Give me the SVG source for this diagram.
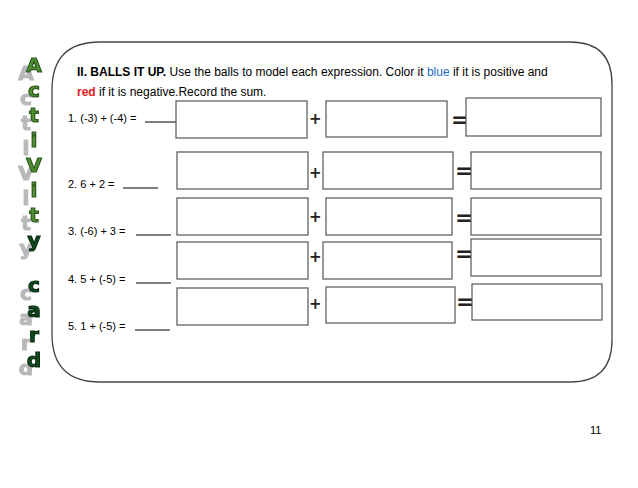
<svg xmlns="http://www.w3.org/2000/svg" width="638" height="488" viewBox="0 0 638 488">
<defs>
<filter id="sh" x="-50%" y="-50%" width="200%" height="200%">
<feFlood flood-color="#b8b8b8" result="c"/>
<feComposite in="c" in2="SourceAlpha" operator="in" result="s"/>
<feOffset in="s" dx="-8" dy="8" result="o"/>
<feMerge><feMergeNode in="o"/><feMergeNode in="SourceGraphic"/></feMerge>
</filter>
</defs>
<style>
.t{font-family:"Liberation Sans",sans-serif;font-size:11px;fill:#000}
.h{font-family:"Liberation Sans",sans-serif;font-size:12px;fill:#000}
.b{fill:#fff;stroke:#555;stroke-width:1.2}
.op{font-family:"DejaVu Sans",sans-serif;font-weight:bold;font-size:15px;fill:#222}
.eq{font-family:"DejaVu Sans",sans-serif;font-weight:bold;font-size:22px;fill:#222}
.L{font-family:"DejaVu Sans",sans-serif;font-weight:bold;font-size:20px;text-anchor:middle}
.g{fill:#4f8f33;stroke:#2d5a1e;stroke-width:1.2}
.d{fill:#0f4a1e;stroke:#0a2e12;stroke-width:1.2}
</style>
<rect width="638" height="488" fill="#fff"/>
<path d="M100,42 H570 Q612,42 612,84 V340 Q612,382 570,382 H100 Q52,382 52,334 V90 Q52,42 100,42 Z" fill="none" stroke="#444" stroke-width="1.3"/>
<g id="title">
<text class="h" x="77" y="76"><tspan font-weight="bold">II. BALLS IT UP.</tspan> Use the balls to model each expression.  Color it <tspan fill="#1a6fc0">blue</tspan> if it is positive and</text>
<text class="h" x="77" y="96"><tspan fill="#e02020" font-weight="bold">red</tspan> if it is negative.Record the sum.</text>
</g>
<g id="side" filter="url(#sh)">
<g class="g"><text class="L" x="34" y="72">A</text><text class="L" x="34" y="97">c</text><text class="L" x="34" y="122">t</text><text class="L" x="34" y="147">i</text><text class="L" x="34" y="172">V</text><text class="L" x="34" y="197">i</text><text class="L" x="34" y="222">t</text></g>
<g class="d"><text class="L" x="34" y="247">y</text><text class="L" x="34" y="292">c</text><text class="L" x="34" y="317">a</text><text class="L" x="34" y="342">r</text><text class="L" x="34" y="367">d</text></g>
</g>
<g id="q1"><text class="t" x="68" y="122">1.  (-3) + (-4) =</text><line x1="145" y1="122" x2="176" y2="122" stroke="#000"/>
<rect class="b" x="176" y="101" width="131" height="37"/><text class="op" x="309" y="124">+</text><rect class="b" x="326" y="101" width="121" height="36"/><text class="eq" x="451" y="127">=</text><rect class="b" x="466" y="98" width="135" height="38"/></g>
<g id="q2"><text class="t" x="68" y="188">2.  6 + 2 = </text><line x1="123" y1="188" x2="158" y2="188" stroke="#000"/>
<rect class="b" x="177" y="152" width="131" height="37"/><text class="op" x="309" y="178">+</text><rect class="b" x="323" y="152" width="130" height="37"/><text class="eq" x="455" y="178">=</text><rect class="b" x="471" y="152" width="130" height="37"/></g>
<g id="q3"><text class="t" x="68" y="235">3.  (-6) + 3 = </text><line x1="136" y1="235" x2="171" y2="235" stroke="#000"/>
<rect class="b" x="177" y="198" width="131" height="37"/><text class="op" x="309" y="222">+</text><rect class="b" x="326" y="198" width="126" height="37"/><text class="eq" x="455" y="225">=</text><rect class="b" x="471" y="198" width="130" height="37"/></g>
<g id="q4"><text class="t" x="68" y="283">4.  5 + (-5) = </text><line x1="136" y1="283" x2="171" y2="283" stroke="#000"/>
<rect class="b" x="177" y="242" width="131" height="37"/><text class="op" x="309" y="262">+</text><rect class="b" x="323" y="242" width="129" height="37"/><text class="eq" x="455" y="261">=</text><rect class="b" x="471" y="239" width="130" height="37"/></g>
<g id="q5"><text class="t" x="68" y="330">5.  1 + (-5) = </text><line x1="135" y1="330" x2="170" y2="330" stroke="#000"/>
<rect class="b" x="177" y="288" width="131" height="37"/><text class="op" x="309" y="309">+</text><rect class="b" x="326" y="287" width="129" height="36"/><text class="eq" x="456" y="309">=</text><rect class="b" x="472" y="284" width="130" height="36"/></g>
<text class="t" x="590" y="434">11</text>
</svg>
